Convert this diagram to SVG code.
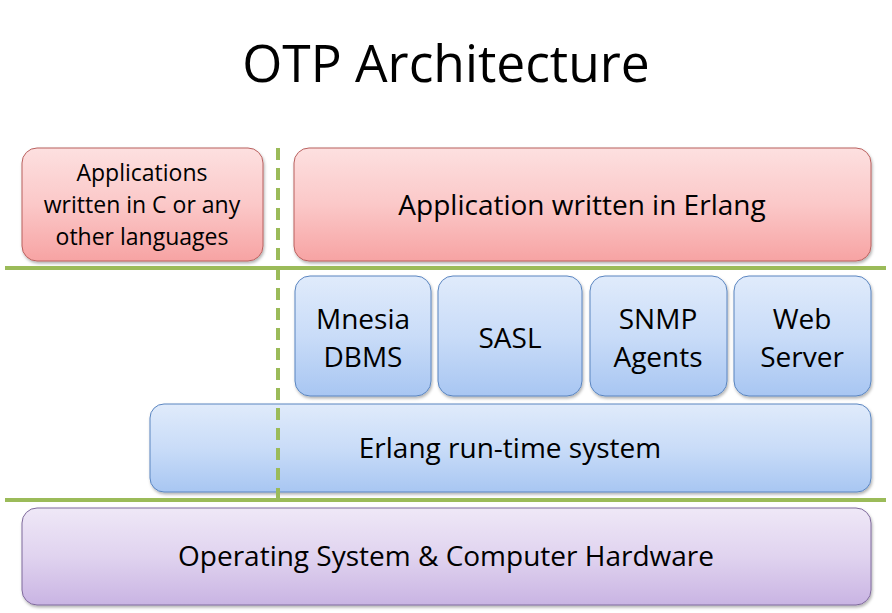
<svg xmlns="http://www.w3.org/2000/svg" width="892" height="613" viewBox="0 0 892 613">
<defs>
<linearGradient id="gRed" x1="0" y1="0" x2="0" y2="1"><stop offset="0" stop-color="#fde0e0"/><stop offset="0.5" stop-color="#fbc8c8"/><stop offset="1" stop-color="#f7a3a3"/></linearGradient>
<linearGradient id="gBlue" x1="0" y1="0" x2="0" y2="1"><stop offset="0" stop-color="#e0ebfb"/><stop offset="0.5" stop-color="#c9dcf8"/><stop offset="1" stop-color="#a8c6f2"/></linearGradient>
<linearGradient id="gPurple" x1="0" y1="0" x2="0" y2="1"><stop offset="0" stop-color="#efe8f7"/><stop offset="0.5" stop-color="#e0d3ef"/><stop offset="1" stop-color="#c9b4e3"/></linearGradient>
<filter id="sh" x="-5%" y="-5%" width="110%" height="120%"><feDropShadow dx="1" dy="2" stdDeviation="1.5" flood-color="#000" flood-opacity="0.3"/></filter>
</defs>
<style>
.red{fill:url(#gRed);stroke:#b9615f;stroke-width:1}
.blue{fill:url(#gBlue);stroke:#5a85c0;stroke-width:1}
.purple{fill:url(#gPurple);stroke:#7f6a9c;stroke-width:1}
.box{filter:url(#sh)}
text{font-family:"Open Sans","Liberation Sans",sans-serif;fill:#000;text-anchor:middle}
.t{font-size:28px}
.s{font-size:23px}
.title{font-size:51.5px}
.gl{stroke:#9bbb59;stroke-width:4;fill:none}
.gd{stroke:#9bbb59;stroke-width:4;fill:none;stroke-dasharray:12 8}
</style>
<text class="title" x="446" y="82">OTP Architecture</text>
<g id="app-c"><rect class="red box" x="22" y="148" width="241" height="113" rx="15"/>
<text class="s" x="142" y="181">Applications</text><text class="s" x="142" y="213">written in C or any</text><text class="s" x="142" y="245">other languages</text></g>
<g id="app-erlang"><rect class="red box" x="294" y="148" width="577" height="113" rx="15"/>
<text class="t" x="582" y="215">Application written in Erlang</text></g>
<g id="mnesia"><rect class="blue box" x="295" y="276" width="136" height="120" rx="15"/>
<text class="t" x="363" y="329">Mnesia</text><text class="t" x="363" y="367">DBMS</text></g>
<g id="sasl"><rect class="blue box" x="438" y="276" width="144" height="120" rx="15"/>
<text class="t" x="510" y="348">SASL</text></g>
<g id="snmp"><rect class="blue box" x="590" y="276" width="137" height="120" rx="15"/>
<text class="t" x="658" y="329">SNMP</text><text class="t" x="658" y="367">Agents</text></g>
<g id="web"><rect class="blue box" x="734" y="276" width="137" height="120" rx="15"/>
<text class="t" x="802" y="329">Web</text><text class="t" x="802" y="367">Server</text></g>
<g id="erts"><rect class="blue box" x="150" y="404" width="721" height="88" rx="14"/>
<text class="t" x="510" y="458">Erlang run-time system</text></g>
<g id="os"><rect class="purple box" x="22" y="508" width="849" height="97" rx="15"/>
<text class="t" x="446" y="566">Operating System &amp; Computer Hardware</text></g>
<g id="connectors">
<line class="gl" x1="5" y1="268" x2="886" y2="268"/>
<line class="gl" x1="5" y1="500" x2="886" y2="500"/>
<line class="gd" x1="278" y1="148" x2="278" y2="500"/>
</g>
</svg>
